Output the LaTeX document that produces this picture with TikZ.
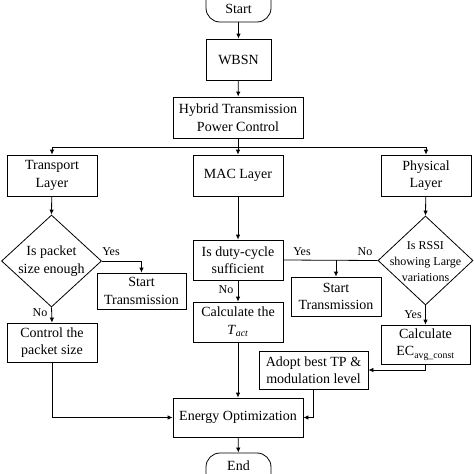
\documentclass[tikz,border=0pt]{standalone}
\usepackage{fontspec}
\setmainfont{Liberation Serif}
\usetikzlibrary{shapes.geometric,arrows.meta}
\begin{document}
\begin{tikzpicture}[x=1pt,y={(0pt,-1pt)},
  every node/.style={font=\fontsize{14}{17.5}\selectfont, text=black},
  box/.style={draw, line width=0.8pt, inner sep=0pt, align=center},
  term/.style={draw, line width=0.8pt, rounded corners=14pt, inner sep=0pt, minimum width=65pt, minimum height=36pt},
  dia/.style={draw, diamond, line width=0.8pt, inner sep=0pt},
  arr/.style={line width=0.8pt, -{Latex[length=5pt,width=4.5pt]}},
  ln/.style={line width=0.8pt},
  lbl/.style={font=\fontsize{12}{14}\selectfont, inner sep=0pt}]
\useasboundingbox (0,0) rectangle (474,474);
% terminals
\node[term, label={[yshift=-5pt]center:Start}] (start) at (238.5,4) {};
\node[term, label={[yshift=5pt]center:End}] (end) at (238.5,471) {};
% boxes
\node[box, minimum width=65pt, minimum height=41pt] (wbsn) at (238.5,59.5) {WBSN};
\node[box, minimum width=130pt, minimum height=41pt] (hybrid) at (238,117.5) {Hybrid Transmission\\Power Control};
\node[box, minimum width=90pt, minimum height=41pt] (transport) at (52,175.5) {Transport\\Layer};
\node[box, minimum width=90pt, minimum height=41pt] (mac) at (238,175.5) {MAC Layer};
\node[box, minimum width=90pt, minimum height=41pt] (phys) at (426,175.5) {Physical\\Layer};
% diamonds
\node[dia, minimum width=100pt, minimum height=92pt] (d1) at (51.5,261) {};
\node[align=center, inner sep=0pt] (d1t) at (51.5,261) {Is packet\\size enough};
\node[dia, minimum width=95pt, minimum height=89pt] (d2) at (425.5,260.5) {};
\node[align=center, inner sep=0pt, font=\fontsize{12}{16}\selectfont] (d2t) at (425.5,261.5) {Is RSSI\\showing Large\\variations};
% second row
\node[box, minimum width=89pt, minimum height=36pt] (st1) at (141.5,291) {Start\\Transmission};
\node[box, minimum width=90pt, minimum height=40pt] (duty) at (238,260) {Is duty-cycle\\sufficient};
\node[box, minimum width=90pt, minimum height=39pt] (st2) at (336,296.5) {Start\\Transmission};
\node[box, minimum width=90pt, minimum height=39pt] (ctrl) at (52,342.5) {Control the\\packet size};
\node[box, minimum width=90pt, minimum height=40pt] (calcT) at (238,322) {Calculate the\\\textit{T}\textsubscript{\textit{act}}};
\node[box, minimum width=89pt, minimum height=39pt] (calcEC) at (425.5,344.5) {Calculate\\EC\textsubscript{avg\_const}};
\node[box, minimum width=109pt, minimum height=38pt] (adopt) at (313.5,370) {Adopt best TP \&\\modulation level};
\node[box, minimum width=130pt, minimum height=39pt] (energy) at (238,417.5) {Energy Optimization};
% connectors
\coordinate (bus) at (238,147);
\draw[arr] (start) -- (wbsn);
\draw[arr] (wbsn) -- (hybrid);
\draw[ln] (hybrid.south) -- (bus);
\draw[arr] (bus) -| (transport.north);
\draw[arr] (bus) -| (phys.north);
\draw[arr] (bus) -- (mac.north);
\draw[arr] (transport) -- (d1.north);
\draw[arr] (d1.east) -| (st1.north);
\draw[arr] (d1.south) -- (ctrl.north);
\draw[arr] (ctrl.south) |- (energy.west);
\draw[arr] (mac) -- (duty);
\coordinate (jn) at (st2.north |- duty.east);
\draw[ln] (duty.east) -- (d2.west);
\draw[arr] (jn) -- (st2.north);
\draw[arr] (duty) -- (calcT);
\draw[arr] (calcT) -- (energy);
\draw[arr] (phys) -- (d2.north);
\draw[arr] (d2.south) -- (calcEC.north);
\draw[arr] (calcEC.south) |- (adopt.east);
\draw[arr] (adopt.south) |- (energy.east);
\draw[arr] (energy) -- (end);
% labels
\node[lbl] (y1) at (111,252) {Yes};
\node[lbl] (n1) at (40,313) {No};
\node[lbl] (y2) at (302,252) {Yes};
\node[lbl] (n2) at (365,252) {No};
\node[lbl] (n3) at (226,290) {No};
\node[lbl] (y3) at (413,315) {Yes};
\end{tikzpicture}
\end{document}
